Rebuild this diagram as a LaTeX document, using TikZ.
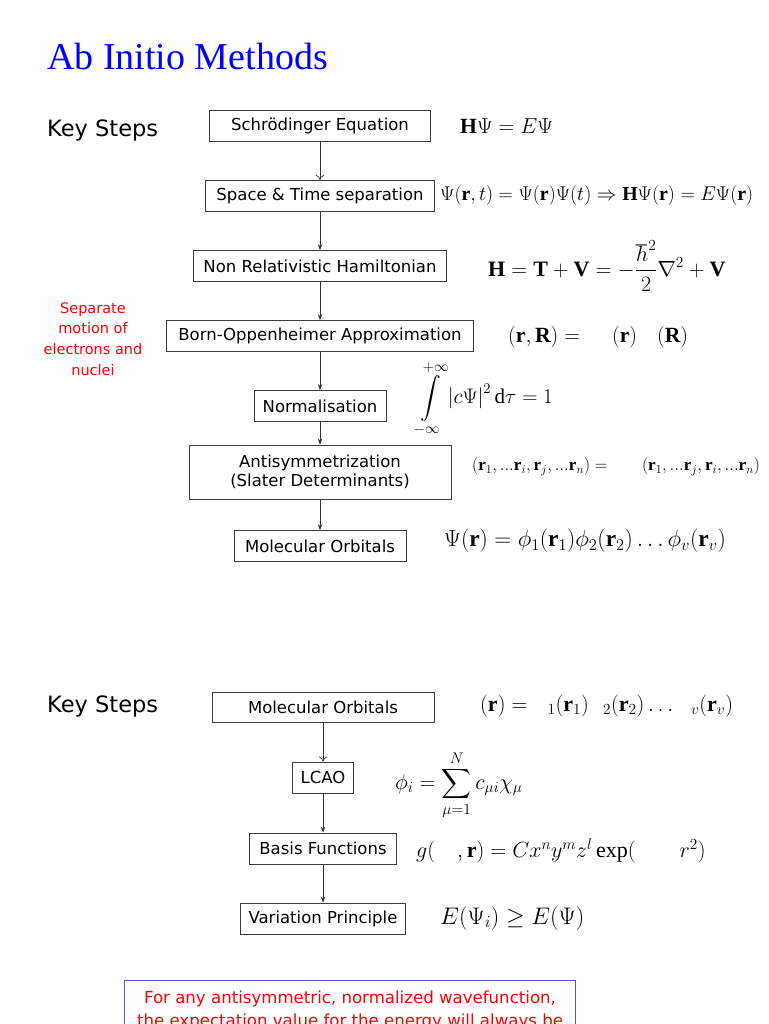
\RequirePackage{fix-cm}
\documentclass[tikz,border=0pt]{standalone}
\usepackage{amsmath}
\usepackage{fontspec}
\setmainfont{Liberation Serif}
\newfontfamily\vsans{DejaVu Sans}
\usetikzlibrary{arrows.meta}
\definecolor{boxline}{RGB}{60,60,60}
\definecolor{notebox}{RGB}{90,90,190}
\tikzset{
 stepbox/.style={draw=boxline, line width=0.8pt, minimum height=31pt, inner sep=0pt, font=\vsans\fontsize{16.5}{19.5}\selectfont, fill=white},
 conn/.style={draw=black!80, line width=0.7pt, -{Stealth[length=6pt,width=4.5pt]}},
 connopen/.style={draw=black!80, line width=0.7pt, -{To[length=5pt,width=8pt]}},
 eq/.style={anchor=west, inner sep=0pt},
 heading/.style={anchor=west, inner sep=0pt, font=\vsans\fontsize{22.5}{26}\selectfont},
}
\begin{document}
\begin{tikzpicture}[x=1pt,y=-1pt]
\useasboundingbox (0,0) rectangle (768,1024);
\fill[white] (0,0) rectangle (768,1024);
\clip (0,0) rectangle (768,1024);
\node[anchor=base west, inner sep=0pt, text=blue, font=\fontsize{38}{40}\selectfont] (title) at (47,70) {Ab Initio Methods};
\node[heading] (ks1) at (47,130) {Key Steps};
\node[heading] (ks2) at (47,706) {Key Steps};
% top chain
\node[stepbox, minimum width=221] (b1) at (320,126) {Schrödinger Equation};
\node[stepbox, minimum width=229] (b2) at (320,196) {Space \& Time separation};
\node[stepbox, minimum width=253] (b3) at (320,266) {Non Relativistic Hamiltonian};
\node[stepbox, minimum width=307] (b4) at (320,336) {Born-Oppenheimer Approximation};
\node[stepbox, minimum width=132] (b5) at (320,406) {Normalisation};
\node[stepbox, minimum width=262, minimum height=54, align=center] (b6) at (320,472) {Antisymmetrization\\(Slater Determinants)};
\node[stepbox, minimum width=172] (b7) at (320,546) {Molecular Orbitals};
\draw[connopen] (b1) -- (b2);
\draw[conn] (b2) -- (b3);
\draw[conn] (b3) -- (b4);
\draw[conn] (b4) -- (b5);
\draw[conn] (b5) -- (b6);
\draw[conn] (b6) -- (b7);
% second chain
\node[stepbox, minimum width=222, minimum height=30] (c1) at (323,707) {Molecular Orbitals};
\node[stepbox, minimum width=61] (c2) at (323,777.5) {LCAO};
\node[stepbox, minimum width=147] (c3) at (323,848.5) {Basis Functions};
\node[stepbox, minimum width=165] (c4) at (323,918.5) {Variation Principle};
\draw[connopen] (c1) -- (c2);
\draw[conn] (c2) -- (c3);
\draw[conn] (c3) -- (c4);
% side note
\node[align=center, text=red, inner sep=0pt, font=\vsans\fontsize{14.5}{20.7}\selectfont] (sep) at (93,339) {Separate\\motion of\\electrons and\\nuclei};
% equations
\node[eq, font=\fontsize{21.7}{25}\selectfont] (e1) at (460,126) {$\mathbf{H}\Psi = E\Psi$};
\node[eq, font=\fontsize{19.9}{24}\selectfont] (e2) at (440,196) {$\Psi(\mathbf{r},t)=\Psi(\mathbf{r})\Psi(t)\Rightarrow\mathbf{H}\Psi(\mathbf{r})=E\Psi(\mathbf{r})$};
\node[eq, font=\fontsize{22}{26}\selectfont] (e3) at (488,266) {$\displaystyle\mathbf{H}=\mathbf{T}+\mathbf{V}=-\frac{\hbar^2}{2}\nabla^2+\mathbf{V}$};
\node[eq, font=\fontsize{21.7}{26}\selectfont] (e4) at (508,337) {$(\mathbf{r},\mathbf{R}) = \hspace{26pt}(\mathbf{r})\hspace{20pt}(\mathbf{R})$};
\node[eq, font=\fontsize{21}{25}\selectfont] (e5) at (418,399) {$\displaystyle\int\limits_{-\infty}^{+\infty}\left|c\Psi\right|^2 \mathrm{d}\tau = 1$};
\node[eq, font=\fontsize{17.2}{20}\selectfont] (e6) at (472,467) {$(\mathbf{r}_1,...\mathbf{r}_i,\mathbf{r}_j,...\mathbf{r}_n) = \hspace{30pt}(\mathbf{r}_1,...\mathbf{r}_j,\mathbf{r}_i,...\mathbf{r}_n)$};
\node[eq, font=\fontsize{23.4}{28}\selectfont] (e7) at (444,541) {$\Psi(\mathbf{r})=\phi_1(\mathbf{r}_1)\phi_2(\mathbf{r}_2)\ldots\phi_v(\mathbf{r}_v)$};
\node[eq, font=\fontsize{22}{26}\selectfont] (e8) at (480,706) {$(\mathbf{r}) = \hspace{14pt}{}_{1}(\mathbf{r}_1)\hspace{14pt}{}_{2}(\mathbf{r}_2)\ldots\hspace{14pt}{}_{v}(\mathbf{r}_v)$};
\node[eq, font=\fontsize{22}{26}\selectfont] (e9) at (395,785) {$\displaystyle\phi_i=\sum_{\mu=1}^{N} c_{\mu i}\chi_\mu$};
\node[eq, font=\fontsize{22}{26}\selectfont] (e10) at (416,851) {$g(\hspace{22pt},\mathbf{r}) = Cx^ny^mz^l\exp(\hspace{44pt}r^2)$};
\node[eq, font=\fontsize{24}{28}\selectfont] (e11) at (440,918) {$E(\Psi_i)\geq E(\Psi)$};
% bottom note
\draw[draw=notebox, line width=1pt] (124,980) rectangle (575,1060);
\node[anchor=base, text=red, inner sep=0pt, font=\vsans\fontsize{16.6}{19}\selectfont] (n1) at (350,1003) {For any antisymmetric, normalized wavefunction,};
\node[anchor=base, text=red, inner sep=0pt, font=\vsans\fontsize{16.6}{19}\selectfont] (n2) at (350,1026) {the expectation value for the energy will always be};
\end{tikzpicture}
\end{document}
